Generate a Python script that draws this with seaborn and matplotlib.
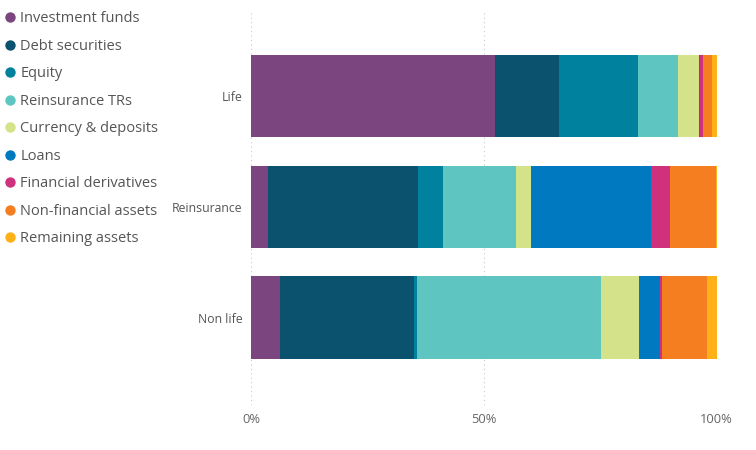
import numpy as np
import pandas as pd
import matplotlib
import matplotlib.pyplot as plt
import seaborn as sns
from matplotlib.lines import Line2D

matplotlib.use('Agg')
sns.set_theme(style="white")
plt.rcParams['font.family'] = ['Open Sans', 'DejaVu Sans']

categories = ["Life", "Reinsurance", "Non life"]
series = ["Investment funds", "Debt securities", "Equity", "Reinsurance TRs",
          "Currency & deposits", "Loans", "Financial derivatives",
          "Non-financial assets", "Remaining assets"]

investment_funds = [52.5, 3.7, 6.3]
debt_securities = [13.6, 32.1, 28.6]
equity = [17.0, 5.5, 0.8]
reinsurance_trs = [8.5, 15.7, 39.5]
currency_deposits = [4.5, 3.2, 8.1]
loans = [0.4, 25.8, 4.6]
financial_derivatives = [0.5, 3.9, 0.3]
non_financial_assets = [2.1, 10.0, 9.7]
remaining_assets = [0.9, 0.1, 2.1]

colors = ["#7B4580", "#0B526E", "#00819E", "#5EC5C1", "#D4E28A",
          "#0079C1", "#D0317D", "#F47E20", "#FDB117"]

df = pd.DataFrame({
    "Investment funds": investment_funds,
    "Debt securities": debt_securities,
    "Equity": equity,
    "Reinsurance TRs": reinsurance_trs,
    "Currency & deposits": currency_deposits,
    "Loans": loans,
    "Financial derivatives": financial_derivatives,
    "Non-financial assets": non_financial_assets,
    "Remaining assets": remaining_assets,
}, index=categories)
# normalise to 100% and stack
df = df.div(df.sum(axis=1), axis=0) * 100
cum = df.cumsum(axis=1)

fig = plt.figure(figsize=(7.56, 4.5), dpi=100)
ax = fig.add_axes([0.332, 0.1, 0.616, 0.873])

# draw from the longest cumulative bar down so each segment shows
for name, col in reversed(list(zip(series, colors))):
    sns.barplot(x=cum[name].values, y=categories, orient="h", color=col,
                saturation=1, width=0.745, ax=ax, linewidth=0)

ax.set_xlim(0, 100)
ax.set_ylim(2.79, -0.76)
ax.set_xticks([0, 50, 100])
ax.set_xticklabels(["0%", "50%", "100%"])
ax.xaxis.grid(True, linestyle=(0, (1, 3)), color="#c8c8c8", linewidth=0.8)
ax.set_axisbelow(True)
for s in ax.spines.values():
    s.set_visible(False)
ax.tick_params(axis="x", length=0, pad=6, labelsize=9.3, labelcolor="#666666")
ax.tick_params(axis="y", length=0, pad=6, labelsize=8.8, labelcolor="#555555")
ax.set_xlabel("")
ax.set_ylabel("")

handles = [Line2D([0], [0], marker="o", color="w", markerfacecolor=c,
                  markersize=8.5, linewidth=0) for c in colors]
leg = fig.legend(handles, series, loc="upper left", bbox_to_anchor=(0.0, 0.985),
                 frameon=False, fontsize=10.5, labelspacing=0.86,
                 handlelength=0.8, handletextpad=0.3, borderpad=0.3,
                 borderaxespad=0.0)
for t in leg.get_texts():
    t.set_color("#555555")

fig.savefig("out.png", dpi=100)
